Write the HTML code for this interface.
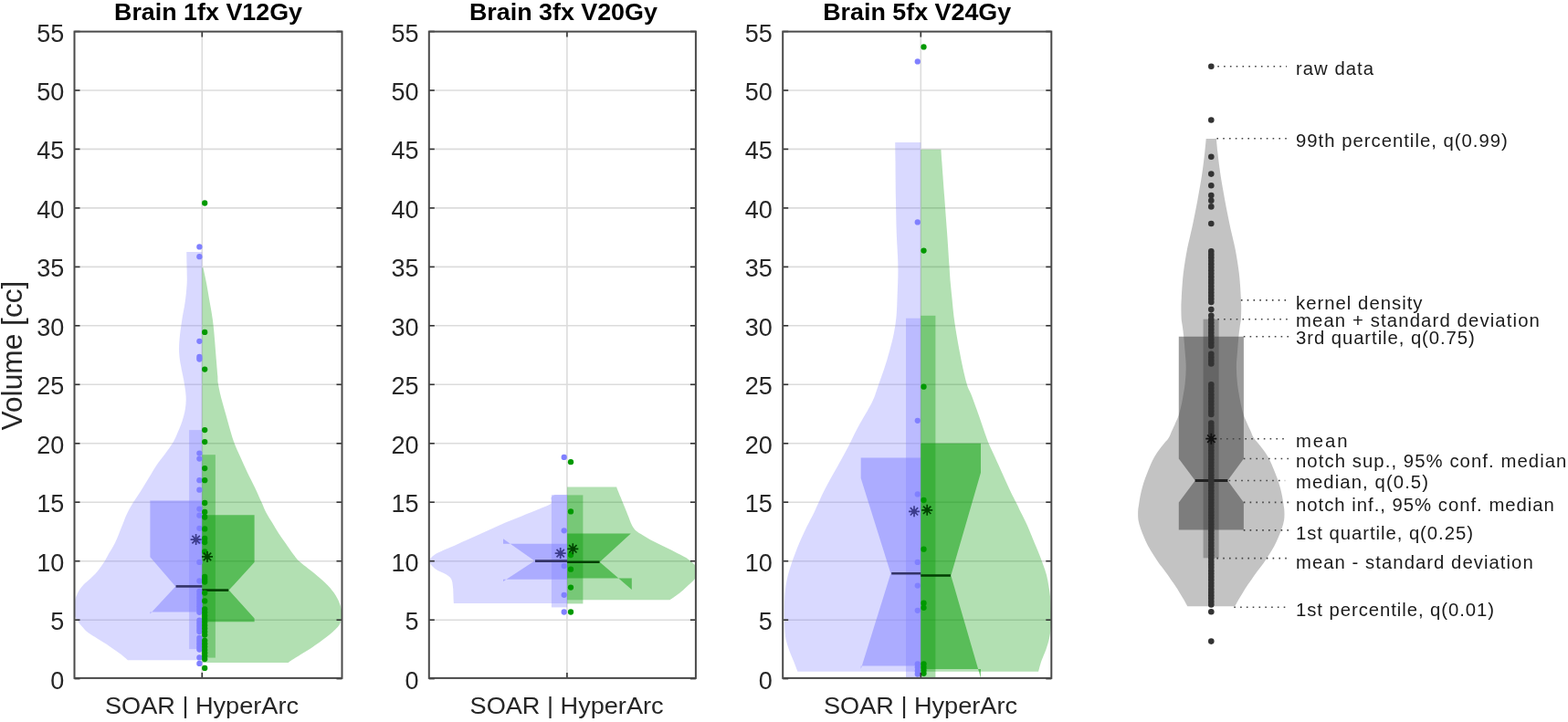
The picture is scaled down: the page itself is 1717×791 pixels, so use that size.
<!DOCTYPE html>
<html><head><meta charset="utf-8"><title>Violin plots</title>
<style>html,body{margin:0;padding:0;background:#fff;overflow:hidden}svg{display:block}</style>
</head><body>
<svg width="1717" height="791" viewBox="0 0 1717 791" font-family="'Liberation Sans', Arial, Helvetica, sans-serif">
<rect width="1717" height="791" fill="#fff"/>
<g stroke="#dcdcdc" stroke-width="1.6"><line x1="81.5" y1="679.2" x2="374.5" y2="679.2"/><line x1="81.5" y1="614.7" x2="374.5" y2="614.7"/><line x1="81.5" y1="550.2" x2="374.5" y2="550.2"/><line x1="81.5" y1="485.8" x2="374.5" y2="485.8"/><line x1="81.5" y1="421.3" x2="374.5" y2="421.3"/><line x1="81.5" y1="356.8" x2="374.5" y2="356.8"/><line x1="81.5" y1="292.4" x2="374.5" y2="292.4"/><line x1="81.5" y1="227.9" x2="374.5" y2="227.9"/><line x1="81.5" y1="163.4" x2="374.5" y2="163.4"/><line x1="81.5" y1="99" x2="374.5" y2="99"/><line x1="221.3" y1="34.6" x2="221.3" y2="742.9"/></g>
<g stroke="#dcdcdc" stroke-width="1.6"><line x1="469.8" y1="679.2" x2="761.9" y2="679.2"/><line x1="469.8" y1="614.7" x2="761.9" y2="614.7"/><line x1="469.8" y1="550.2" x2="761.9" y2="550.2"/><line x1="469.8" y1="485.8" x2="761.9" y2="485.8"/><line x1="469.8" y1="421.3" x2="761.9" y2="421.3"/><line x1="469.8" y1="356.8" x2="761.9" y2="356.8"/><line x1="469.8" y1="292.4" x2="761.9" y2="292.4"/><line x1="469.8" y1="227.9" x2="761.9" y2="227.9"/><line x1="469.8" y1="163.4" x2="761.9" y2="163.4"/><line x1="469.8" y1="99" x2="761.9" y2="99"/><line x1="620.9" y1="34.6" x2="620.9" y2="742.9"/></g>
<g stroke="#dcdcdc" stroke-width="1.6"><line x1="857.2" y1="679.2" x2="1151.3" y2="679.2"/><line x1="857.2" y1="614.7" x2="1151.3" y2="614.7"/><line x1="857.2" y1="550.2" x2="1151.3" y2="550.2"/><line x1="857.2" y1="485.8" x2="1151.3" y2="485.8"/><line x1="857.2" y1="421.3" x2="1151.3" y2="421.3"/><line x1="857.2" y1="356.8" x2="1151.3" y2="356.8"/><line x1="857.2" y1="292.4" x2="1151.3" y2="292.4"/><line x1="857.2" y1="227.9" x2="1151.3" y2="227.9"/><line x1="857.2" y1="163.4" x2="1151.3" y2="163.4"/><line x1="857.2" y1="99" x2="1151.3" y2="99"/><line x1="1008.3" y1="34.6" x2="1008.3" y2="742.9"/></g>
<path d="M221.3 276.1L204.3 276.1C204.3 278.4 204.4 284.3 204.5 290C204.6 295.7 205 303.7 204.7 310.5C204.4 317.3 203.6 324 202.7 330.7C201.8 337.4 200.2 344.1 199.2 350.9C198.2 357.6 197.1 365.1 196.6 371.2C196.1 377.3 195.9 382.2 196.2 387.3C196.5 392.4 197.3 396.6 198.2 401.5C199 406.4 200.4 411.6 201.3 417C202.2 422.4 203.3 428.8 203.6 433.9C203.9 439 203.6 443.2 202.9 447.8C202.2 452.4 200.9 457.1 199.4 461.7C197.9 466.3 195.5 471.8 193.8 475.7C192.1 479.6 191.1 481.9 189 485.4C186.9 488.9 184.3 492.3 181.3 496.5C178.3 500.7 174 505.8 170.9 510.4C167.8 515 165.3 519.8 162.5 524.3C159.7 528.8 157.1 533.2 154.3 537.7C151.5 542.2 148.2 546.6 145.5 551C142.8 555.4 140.2 560.5 138.4 564.2C136.6 567.9 136.1 570.2 134.9 573.1C133.7 576 132.5 579 131.3 581.9C130.1 584.8 129.1 587.8 127.8 590.8C126.5 593.8 125 596.6 123.4 599.6C121.8 602.6 119.6 605.9 118.1 608.5C116.6 611.1 116.4 612 114.5 615C112.6 618 109.3 622.9 106.5 626.2C103.7 629.5 100.1 632.7 97.7 635C95.3 637.3 93.8 638.1 92 640C90.2 641.9 88.4 644.2 87 646.3C85.6 648.4 84.6 650.6 83.8 652.6C83 654.6 82.4 655.6 82 658C81.6 660.4 81.5 664.2 81.5 667C81.5 669.8 81.4 672.8 82 675C82.6 677.2 83.8 678.5 85.1 680.5C86.4 682.5 88.2 684.7 90.1 686.8C92 688.9 93.7 691 96.4 693.1C99.1 695.2 103.1 697.3 106.5 699.4C109.9 701.5 113.5 703.6 116.7 705.7C119.9 707.8 122.5 710 125.5 712.1C128.4 714.2 132 716.5 134.4 718.4C136.8 720.2 139.1 722.4 140 723.2L221.3 723.2Z" fill="#8080ff" fill-opacity="0.3"/>
<path d="M221.3 293.3L222.5 293.3C222.7 294.1 222.9 295.1 223.5 298C224.1 300.9 225.1 305.1 226.1 310.5C227.1 315.9 228.4 324 229.6 330.7C230.8 337.4 232.1 344.1 233 350.9C233.9 357.6 234.4 364.4 235 371.2C235.6 377.9 236 384.7 236.6 391.4C237.2 398.1 237.9 406.8 238.3 411.6C238.7 416.4 238.1 415.6 238.8 420C239.5 424.4 241.2 431.8 242.7 437.7C244.2 443.6 246 449.5 247.7 455.4C249.3 461.3 251.1 467.9 252.6 473C254.1 478.1 255.2 481.9 256.9 486.3C258.6 490.7 260.4 494.5 262.7 499.6C265 504.8 267.9 511.3 270.7 517.2C273.5 523.1 276.9 529.4 279.5 534.9C282.1 540.4 284.3 545.6 286.3 550C288.3 554.4 289.4 557.6 291.4 561.4C293.4 565.2 295.9 569 298.2 572.8C300.5 576.6 302.6 580.4 305.1 584.2C307.6 588 310.4 591.8 313 595.6C315.6 599.4 318.3 603.5 321 606.9C323.7 610.3 324.8 612.3 329 616.1C333.2 619.9 341.2 625.5 346.1 629.7C351 633.9 355 637.3 358.6 641.1C362.2 644.9 365.3 648.7 367.7 652.5C370.1 656.3 371.8 660.5 372.9 663.9C374 667.3 374.4 670.4 374.5 673C374.6 675.6 374.1 677.5 373.4 679.8C372.6 682.1 372.7 683.7 370 686.7C367.3 689.8 362.1 694.3 357.4 698.1C352.6 701.9 347.2 705.7 341.5 709.5C335.8 713.3 327.5 718.1 323.3 720.8C319.1 723.4 317.7 724.5 316.4 725.4C315.1 726.3 315.6 726 315.5 726.1L221.3 726.1Z" fill="#009900" fill-opacity="0.3"/>
<path d="M621.1 542L607.5 542C606.8 542.5 604.2 543.3 603.5 545C602.8 546.7 605.4 549.9 603 552.1C600.6 554.3 594.2 556.1 588.9 558.3C583.6 560.5 577.1 563 571.2 565.4C565.3 567.8 559.4 570 553.5 572.5C547.6 575 541.7 577.8 535.8 580.4C529.9 583 524 585.7 518.1 588.4C512.2 591.1 505.7 594 500.4 596.4C495.1 598.8 490.3 600.7 486.2 602.6C482.1 604.5 478.1 606.3 475.6 607.9C473.1 609.5 471.9 610.7 471.2 612.3C470.5 613.9 470.2 615.7 471.2 617.6C472.2 619.5 474.6 621.9 477.4 623.8C480.2 625.7 485.2 627.3 488 629.1C490.8 630.9 492.9 632 494.2 634.4C495.5 636.8 495.6 640 496 643.3C496.4 646.5 496.4 650.9 496.5 653.9C496.6 656.9 496.8 659.8 496.9 661L621.1 661Z" fill="#8080ff" fill-opacity="0.3"/>
<path d="M621.1 533.6L675.3 533.6C675.4 533.9 675 533.4 675.7 535.2C676.4 537 678.1 541.1 679.5 544.6C680.9 548.1 682.8 552.5 684.2 556C685.6 559.5 686.7 562.3 688 565.5C689.3 568.7 690.4 572.3 691.8 575C693.2 577.7 694.5 579.7 696.5 581.6C698.5 583.5 700.9 584.5 704.1 586.4C707.3 588.3 711.4 590.8 715.5 593C719.6 595.2 724.3 597.4 728.7 599.6C733.1 601.8 737.8 604.1 742 606.3C746.2 608.5 750.7 610.5 754 612.9C757.3 615.3 760.4 617.8 761.8 620.5C763.2 623.2 762.9 626.5 762.6 629C762.3 631.5 761.6 633.2 759.8 635.6C757.9 638 754.1 640.8 751.5 643.2C748.9 645.6 746.8 647.7 743.9 649.9C741 652.1 736 655.5 734.4 656.6L733.5 657.3L621.1 657.3Z" fill="#009900" fill-opacity="0.3"/>
<path d="M1008.3 156.1L980.2 156.1C980.2 159.8 980.4 168 980.5 178C980.6 188 980.7 203.3 980.9 216C981.1 228.7 981.4 243.3 981.7 254C982.1 264.7 982.7 272.3 983 280C983.3 287.7 983.5 292 983.4 300C983.3 308 982.8 320.1 982.5 327.9C982.2 335.7 982.1 340.6 981.5 346.9C980.9 353.2 980 359.5 978.7 365.8C977.5 372.1 975.7 378.5 974 384.8C972.3 391.1 970.4 397.4 968.3 403.7C966.2 410 963.8 416.6 961.6 422.7C959.4 428.8 958.7 432.9 955 440.5C951.3 448.1 943.9 459.9 939.4 468.3C934.9 476.7 932 483.4 928 491C924 498.6 919.7 506.2 915.5 513.8C911.3 521.4 906.9 528.9 903 536.6C899.1 544.3 895 554.1 892.2 560C889.4 565.9 888.2 567.8 886.2 571.7C884.2 575.6 882.2 579.5 880.4 583.4C878.6 587.3 876.8 591.1 875.2 595C873.6 598.9 872.1 602.8 870.6 606.7C869.1 610.6 867.7 614.5 866.4 618.4C865.1 622.3 863.9 626.2 862.9 630.1C861.9 634 861.1 637.9 860.5 641.8C859.9 645.7 859.6 649.6 859.3 653.5C859 657.4 859 661.2 858.9 665.1C858.8 669 858.8 672.9 858.9 676.8C859 680.7 859 684.6 859.3 688.5C859.6 692.4 859.7 696.3 860.5 700.2C861.3 704.1 862.6 708 864 711.9C865.4 715.8 867.1 719.6 868.7 723.6C870.3 727.6 872.6 733.7 873.4 735.7L1008.3 735.7Z" fill="#8080ff" fill-opacity="0.3"/>
<path d="M1008.3 163.7L1030.4 163.7C1030.6 166.1 1030.8 169.3 1031.4 178C1032 186.7 1033.3 203.3 1034.2 216C1035.1 228.7 1036.1 241.7 1037 254C1037.9 266.3 1038.8 280.8 1039.4 290C1040 299.2 1040.2 302.7 1040.7 309C1041.2 315.3 1042 321.6 1042.6 327.9C1043.2 334.2 1043.7 340.6 1044.5 346.9C1045.3 353.2 1046.3 359.5 1047.3 365.8C1048.3 372.1 1049.5 378.5 1050.7 384.8C1051.9 391.1 1053.1 397.4 1054.5 403.7C1055.9 410 1057.9 418.1 1059.3 422.7C1060.7 427.2 1061.3 426.8 1063 431C1064.7 435.2 1067.1 442 1069.2 447.7C1071.3 453.4 1073.4 459.5 1075.4 465.4C1077.5 471.3 1079.2 477.1 1081.5 483C1083.8 488.9 1086.8 494.8 1089.5 500.7C1092.2 506.6 1094.8 512.5 1097.5 518.4C1100.2 524.3 1102.6 530.2 1105.4 536.1C1108.2 542 1112.3 549.8 1114.3 553.8C1116.3 557.8 1115.7 557 1117.2 560C1118.7 563 1121.3 567.8 1123.1 571.7C1124.9 575.6 1126.6 579.5 1128.2 583.4C1129.8 587.3 1131.3 591.1 1132.9 595C1134.5 598.9 1136.2 602.8 1137.8 606.7C1139.3 610.6 1140.8 614.5 1142.2 618.4C1143.6 622.3 1145 626.2 1146 630.1C1147 634 1147.6 637.9 1148.3 641.8C1149 645.7 1149.6 649.6 1150 653.5C1150.4 657.4 1150.5 661.2 1150.7 665.1C1150.9 669 1151.1 672.9 1151.1 676.8C1151.1 680.7 1151.1 684.6 1150.7 688.5C1150.3 692.4 1149.7 696.3 1148.8 700.2C1147.9 704.1 1146.7 708 1145.3 711.9C1143.9 715.8 1142 719.6 1140.6 723.6C1139.2 727.6 1137.7 733.7 1137.1 735.7L1008.3 735.7Z" fill="#009900" fill-opacity="0.3"/>
<polygon points="221.3,548.5 164.4,548.5 164.4,610.2 192.2,642.4 164.4,672.5 164.4,670.5 221.3,670.5" fill="#8080ff" fill-opacity="0.5"/>
<polygon points="221.3,564.3 278.6,564.3 278.6,615.9 250.7,646.6 278.6,677.5 278.6,681.3 221.3,681.3" fill="#009900" fill-opacity="0.5"/>
<polygon points="621.1,595.8 551,595.8 551,590.2 585.4,614.6 551,637.1 551,634.8 621.1,634.8" fill="#8080ff" fill-opacity="0.5"/>
<polygon points="621.1,584.5 690.8,584.5 656.7,615.7 691.8,646.1 691.8,633.4 621.1,633.4" fill="#009900" fill-opacity="0.5"/>
<polygon points="1008.3,501.4 942.7,501.4 942.7,524 975.4,628.3 942.7,733 942.7,729.5 1008.3,729.5" fill="#8080ff" fill-opacity="0.5"/>
<polygon points="1008.3,485.8 1074,485.8 1074,517.7 1041.3,630.5 1074,743 1074,732.9 1008.3,732.9" fill="#009900" fill-opacity="0.5"/>
<rect x="207.1" y="471.1" width="14.2" height="240" fill="#8080ff" fill-opacity="0.33"/>
<rect x="221.3" y="498.2" width="14.6" height="222.4" fill="#009900" fill-opacity="0.33"/>
<rect x="603.9" y="542.2" width="17.2" height="123.2" fill="#8080ff" fill-opacity="0.33"/>
<rect x="621.1" y="542.4" width="17.3" height="119" fill="#009900" fill-opacity="0.33"/>
<rect x="992" y="348.7" width="16.3" height="394.5" fill="#8080ff" fill-opacity="0.33"/>
<rect x="1008.3" y="345.8" width="16.1" height="397.4" fill="#009900" fill-opacity="0.33"/>
<line x1="192.6" y1="642.4" x2="221.3" y2="642.4" stroke="#333366" stroke-width="2.6"/>
<line x1="221.3" y1="646.6" x2="250.2" y2="646.6" stroke="#003d00" stroke-width="2.6"/>
<line x1="586" y1="614.6" x2="621.1" y2="614.6" stroke="#333366" stroke-width="2.6"/>
<line x1="621.1" y1="615.7" x2="656.5" y2="615.7" stroke="#003d00" stroke-width="2.6"/>
<line x1="976.2" y1="628.3" x2="1008.3" y2="628.3" stroke="#333366" stroke-width="2.6"/>
<line x1="1008.3" y1="630.5" x2="1040.9" y2="630.5" stroke="#003d00" stroke-width="2.6"/>
<circle cx="218.4" cy="270.4" r="3.15" fill="#8080ff"/><circle cx="218.4" cy="281.2" r="3.15" fill="#8080ff"/><circle cx="218.4" cy="373.8" r="3.15" fill="#8080ff"/><circle cx="218.4" cy="390.9" r="3.15" fill="#8080ff"/><circle cx="218.4" cy="393.5" r="3.15" fill="#8080ff"/><circle cx="218.4" cy="496.6" r="3.15" fill="#8080ff"/><circle cx="218.4" cy="502.6" r="3.15" fill="#8080ff"/><circle cx="218.4" cy="526.2" r="3.15" fill="#8080ff"/><circle cx="218.4" cy="536.7" r="3.15" fill="#8080ff"/><circle cx="218.4" cy="557.6" r="3.15" fill="#8080ff"/><circle cx="218.4" cy="564.7" r="3.15" fill="#8080ff"/><circle cx="218.4" cy="578.8" r="3.15" fill="#8080ff"/><circle cx="218.4" cy="593" r="3.15" fill="#8080ff"/><circle cx="218.4" cy="615.9" r="3.15" fill="#8080ff"/><circle cx="218.4" cy="636.5" r="3.15" fill="#8080ff"/><circle cx="218.4" cy="647.8" r="3.15" fill="#8080ff"/><circle cx="218.4" cy="651.1" r="3.15" fill="#8080ff"/><circle cx="218.4" cy="654.4" r="3.15" fill="#8080ff"/><circle cx="218.4" cy="657.7" r="3.15" fill="#8080ff"/><circle cx="218.4" cy="660.9" r="3.15" fill="#8080ff"/><circle cx="218.4" cy="664.2" r="3.15" fill="#8080ff"/><circle cx="218.4" cy="667.5" r="3.15" fill="#8080ff"/><circle cx="218.4" cy="670.8" r="3.15" fill="#8080ff"/><circle cx="218.4" cy="679.6" r="3.15" fill="#8080ff"/><circle cx="218.4" cy="682.7" r="3.15" fill="#8080ff"/><circle cx="218.4" cy="685.8" r="3.15" fill="#8080ff"/><circle cx="218.4" cy="688.9" r="3.15" fill="#8080ff"/><circle cx="218.4" cy="692" r="3.15" fill="#8080ff"/><circle cx="218.4" cy="699" r="3.15" fill="#8080ff"/><circle cx="218.4" cy="702.1" r="3.15" fill="#8080ff"/><circle cx="218.4" cy="705.2" r="3.15" fill="#8080ff"/><circle cx="218.4" cy="708.4" r="3.15" fill="#8080ff"/><circle cx="218.4" cy="711.5" r="3.15" fill="#8080ff"/><circle cx="218.4" cy="720.4" r="3.15" fill="#8080ff"/><circle cx="218.4" cy="726.9" r="3.15" fill="#8080ff"/>
<circle cx="224.2" cy="222.5" r="3.15" fill="#009900"/><circle cx="224.2" cy="363.9" r="3.15" fill="#009900"/><circle cx="224.2" cy="404.6" r="3.15" fill="#009900"/><circle cx="224.2" cy="471.1" r="3.15" fill="#009900"/><circle cx="224.2" cy="484.1" r="3.15" fill="#009900"/><circle cx="224.2" cy="513.1" r="3.15" fill="#009900"/><circle cx="224.2" cy="526.2" r="3.15" fill="#009900"/><circle cx="224.2" cy="551" r="3.15" fill="#009900"/><circle cx="224.2" cy="561" r="3.15" fill="#009900"/><circle cx="224.2" cy="566.5" r="3.15" fill="#009900"/><circle cx="224.2" cy="579.4" r="3.15" fill="#009900"/><circle cx="224.2" cy="590" r="3.15" fill="#009900"/><circle cx="224.2" cy="594" r="3.15" fill="#009900"/><circle cx="224.2" cy="604.5" r="3.15" fill="#009900"/><circle cx="224.2" cy="632" r="3.15" fill="#009900"/><circle cx="224.2" cy="634.8" r="3.15" fill="#009900"/><circle cx="224.2" cy="637.5" r="3.15" fill="#009900"/><circle cx="224.2" cy="649.6" r="3.15" fill="#009900"/><circle cx="224.2" cy="658.4" r="3.15" fill="#009900"/><circle cx="224.2" cy="667.3" r="3.15" fill="#009900"/><circle cx="224.2" cy="670.8" r="3.15" fill="#009900"/><circle cx="224.2" cy="674.4" r="3.15" fill="#009900"/><circle cx="224.2" cy="677.9" r="3.15" fill="#009900"/><circle cx="224.2" cy="681.5" r="3.15" fill="#009900"/><circle cx="224.2" cy="685" r="3.15" fill="#009900"/><circle cx="224.2" cy="688.5" r="3.15" fill="#009900"/><circle cx="224.2" cy="692.1" r="3.15" fill="#009900"/><circle cx="224.2" cy="695.6" r="3.15" fill="#009900"/><circle cx="224.2" cy="701.8" r="3.15" fill="#009900"/><circle cx="224.2" cy="705.2" r="3.15" fill="#009900"/><circle cx="224.2" cy="708.6" r="3.15" fill="#009900"/><circle cx="224.2" cy="712" r="3.15" fill="#009900"/><circle cx="224.2" cy="715.3" r="3.15" fill="#009900"/><circle cx="224.2" cy="718.7" r="3.15" fill="#009900"/><circle cx="224.2" cy="722.1" r="3.15" fill="#009900"/><circle cx="224.2" cy="731.9" r="3.15" fill="#009900"/>
<circle cx="617.7" cy="500.9" r="3.15" fill="#8080ff"/><circle cx="617.7" cy="581.3" r="3.15" fill="#8080ff"/><circle cx="617.7" cy="620.1" r="3.15" fill="#8080ff"/><circle cx="617.7" cy="651.8" r="3.15" fill="#8080ff"/><circle cx="617.7" cy="670.5" r="3.15" fill="#8080ff"/>
<circle cx="625" cy="506.2" r="3.15" fill="#009900"/><circle cx="625" cy="560.4" r="3.15" fill="#009900"/><circle cx="625" cy="608" r="3.15" fill="#009900"/><circle cx="625" cy="623.7" r="3.15" fill="#009900"/><circle cx="625" cy="643.6" r="3.15" fill="#009900"/><circle cx="625" cy="670.5" r="3.15" fill="#009900"/>
<circle cx="1004.8" cy="67.4" r="3.15" fill="#8080ff"/><circle cx="1004.8" cy="243.4" r="3.15" fill="#8080ff"/><circle cx="1004.8" cy="460.8" r="3.15" fill="#8080ff"/><circle cx="1004.8" cy="541.4" r="3.15" fill="#8080ff"/><circle cx="1004.8" cy="615.9" r="3.15" fill="#8080ff"/><circle cx="1004.8" cy="641.6" r="3.15" fill="#8080ff"/><circle cx="1004.8" cy="668.8" r="3.15" fill="#8080ff"/><circle cx="1004.8" cy="727.5" r="3.15" fill="#8080ff"/><circle cx="1004.8" cy="731" r="3.15" fill="#8080ff"/><circle cx="1004.8" cy="735" r="3.15" fill="#8080ff"/><circle cx="1004.8" cy="738.5" r="3.15" fill="#8080ff"/>
<circle cx="1011.5" cy="51.4" r="3.15" fill="#009900"/><circle cx="1011.5" cy="274.6" r="3.15" fill="#009900"/><circle cx="1011.5" cy="423.7" r="3.15" fill="#009900"/><circle cx="1011.5" cy="548" r="3.15" fill="#009900"/><circle cx="1011.5" cy="601.7" r="3.15" fill="#009900"/><circle cx="1011.5" cy="660.7" r="3.15" fill="#009900"/><circle cx="1011.5" cy="665.8" r="3.15" fill="#009900"/><circle cx="1011.5" cy="727.3" r="3.15" fill="#009900"/><circle cx="1011.5" cy="731" r="3.15" fill="#009900"/><circle cx="1011.5" cy="734.5" r="3.15" fill="#009900"/><circle cx="1011.5" cy="737.8" r="3.15" fill="#009900"/>
<path d="M208.6 591.1L220.6 591.1M210.4 586.9L218.8 595.3M214.6 585.1L214.6 597.1M218.8 586.9L210.4 595.3" stroke="#3c3c8c" stroke-width="1.7" fill="none"/><circle cx="214.6" cy="591.1" r="2.6" fill="#3c3c8c"/>
<path d="M221 609.9L233 609.9M222.8 605.7L231.2 614.1M227 603.9L227 615.9M231.2 605.7L222.8 614.1" stroke="#004400" stroke-width="1.7" fill="none"/><circle cx="227" cy="609.9" r="2.6" fill="#004400"/>
<path d="M607.7 606.1L619.7 606.1M609.5 601.9L617.9 610.3M613.7 600.1L613.7 612.1M617.9 601.9L609.5 610.3" stroke="#3c3c8c" stroke-width="1.7" fill="none"/><circle cx="613.7" cy="606.1" r="2.6" fill="#3c3c8c"/>
<path d="M621.3 601.3L633.3 601.3M623.1 597.1L631.5 605.5M627.3 595.3L627.3 607.3M631.5 597.1L623.1 605.5" stroke="#004400" stroke-width="1.7" fill="none"/><circle cx="627.3" cy="601.3" r="2.6" fill="#004400"/>
<path d="M995 560.3L1007 560.3M996.8 556.1L1005.2 564.5M1001 554.3L1001 566.3M1005.2 556.1L996.8 564.5" stroke="#3c3c8c" stroke-width="1.7" fill="none"/><circle cx="1001" cy="560.3" r="2.6" fill="#3c3c8c"/>
<path d="M1009.2 558.8L1021.2 558.8M1011 554.6L1019.4 563M1015.2 552.8L1015.2 564.8M1019.4 554.6L1011 563" stroke="#004400" stroke-width="1.7" fill="none"/><circle cx="1015.2" cy="558.8" r="2.6" fill="#004400"/>
<g stroke="#333" stroke-width="1.6"><line x1="81.5" y1="743.6" x2="87.5" y2="743.6"/><line x1="368.5" y1="743.6" x2="374.5" y2="743.6"/><line x1="81.5" y1="679.2" x2="87.5" y2="679.2"/><line x1="368.5" y1="679.2" x2="374.5" y2="679.2"/><line x1="81.5" y1="614.7" x2="87.5" y2="614.7"/><line x1="368.5" y1="614.7" x2="374.5" y2="614.7"/><line x1="81.5" y1="550.2" x2="87.5" y2="550.2"/><line x1="368.5" y1="550.2" x2="374.5" y2="550.2"/><line x1="81.5" y1="485.8" x2="87.5" y2="485.8"/><line x1="368.5" y1="485.8" x2="374.5" y2="485.8"/><line x1="81.5" y1="421.3" x2="87.5" y2="421.3"/><line x1="368.5" y1="421.3" x2="374.5" y2="421.3"/><line x1="81.5" y1="356.8" x2="87.5" y2="356.8"/><line x1="368.5" y1="356.8" x2="374.5" y2="356.8"/><line x1="81.5" y1="292.4" x2="87.5" y2="292.4"/><line x1="368.5" y1="292.4" x2="374.5" y2="292.4"/><line x1="81.5" y1="227.9" x2="87.5" y2="227.9"/><line x1="368.5" y1="227.9" x2="374.5" y2="227.9"/><line x1="81.5" y1="163.4" x2="87.5" y2="163.4"/><line x1="368.5" y1="163.4" x2="374.5" y2="163.4"/><line x1="81.5" y1="99" x2="87.5" y2="99"/><line x1="368.5" y1="99" x2="374.5" y2="99"/><line x1="81.5" y1="34.5" x2="87.5" y2="34.5"/><line x1="368.5" y1="34.5" x2="374.5" y2="34.5"/><line x1="221.3" y1="34.6" x2="221.3" y2="40.6"/><line x1="221.3" y1="742.9" x2="221.3" y2="736.9"/></g>
<rect x="81.5" y="34.6" width="293" height="708.3" fill="none" stroke="#4a4a4a" stroke-width="2"/>
<g font-size="27" fill="#262626" text-anchor="end"><text x="70.2" y="754.6">0</text><text x="70.2" y="690.2">5</text><text x="70.2" y="625.7">10</text><text x="70.2" y="561.2">15</text><text x="70.2" y="496.8">20</text><text x="70.2" y="432.3">25</text><text x="70.2" y="367.8">30</text><text x="70.2" y="303.4">35</text><text x="70.2" y="238.9">40</text><text x="70.2" y="174.4">45</text><text x="70.2" y="110">50</text><text x="70.2" y="45.5">55</text></g>
<text x="221" y="782.2" font-size="26.5" fill="#262626" text-anchor="middle" textLength="212" lengthAdjust="spacingAndGlyphs">SOAR | HyperArc</text>
<text x="228" y="22" font-size="25.3" font-weight="bold" fill="#000" text-anchor="middle" textLength="206" lengthAdjust="spacingAndGlyphs">Brain 1fx V12Gy</text>
<g stroke="#333" stroke-width="1.6"><line x1="469.8" y1="743.6" x2="475.8" y2="743.6"/><line x1="755.9" y1="743.6" x2="761.9" y2="743.6"/><line x1="469.8" y1="679.2" x2="475.8" y2="679.2"/><line x1="755.9" y1="679.2" x2="761.9" y2="679.2"/><line x1="469.8" y1="614.7" x2="475.8" y2="614.7"/><line x1="755.9" y1="614.7" x2="761.9" y2="614.7"/><line x1="469.8" y1="550.2" x2="475.8" y2="550.2"/><line x1="755.9" y1="550.2" x2="761.9" y2="550.2"/><line x1="469.8" y1="485.8" x2="475.8" y2="485.8"/><line x1="755.9" y1="485.8" x2="761.9" y2="485.8"/><line x1="469.8" y1="421.3" x2="475.8" y2="421.3"/><line x1="755.9" y1="421.3" x2="761.9" y2="421.3"/><line x1="469.8" y1="356.8" x2="475.8" y2="356.8"/><line x1="755.9" y1="356.8" x2="761.9" y2="356.8"/><line x1="469.8" y1="292.4" x2="475.8" y2="292.4"/><line x1="755.9" y1="292.4" x2="761.9" y2="292.4"/><line x1="469.8" y1="227.9" x2="475.8" y2="227.9"/><line x1="755.9" y1="227.9" x2="761.9" y2="227.9"/><line x1="469.8" y1="163.4" x2="475.8" y2="163.4"/><line x1="755.9" y1="163.4" x2="761.9" y2="163.4"/><line x1="469.8" y1="99" x2="475.8" y2="99"/><line x1="755.9" y1="99" x2="761.9" y2="99"/><line x1="469.8" y1="34.5" x2="475.8" y2="34.5"/><line x1="755.9" y1="34.5" x2="761.9" y2="34.5"/><line x1="620.9" y1="34.6" x2="620.9" y2="40.6"/><line x1="620.9" y1="742.9" x2="620.9" y2="736.9"/></g>
<rect x="469.8" y="34.6" width="292.1" height="708.3" fill="none" stroke="#4a4a4a" stroke-width="2"/>
<g font-size="27" fill="#262626" text-anchor="end"><text x="458.5" y="754.6">0</text><text x="458.5" y="690.2">5</text><text x="458.5" y="625.7">10</text><text x="458.5" y="561.2">15</text><text x="458.5" y="496.8">20</text><text x="458.5" y="432.3">25</text><text x="458.5" y="367.8">30</text><text x="458.5" y="303.4">35</text><text x="458.5" y="238.9">40</text><text x="458.5" y="174.4">45</text><text x="458.5" y="110">50</text><text x="458.5" y="45.5">55</text></g>
<text x="620.6" y="782.2" font-size="26.5" fill="#262626" text-anchor="middle" textLength="212" lengthAdjust="spacingAndGlyphs">SOAR | HyperArc</text>
<text x="616.9" y="22" font-size="25.3" font-weight="bold" fill="#000" text-anchor="middle" textLength="206" lengthAdjust="spacingAndGlyphs">Brain 3fx V20Gy</text>
<g stroke="#333" stroke-width="1.6"><line x1="857.2" y1="743.6" x2="863.2" y2="743.6"/><line x1="1145.3" y1="743.6" x2="1151.3" y2="743.6"/><line x1="857.2" y1="679.2" x2="863.2" y2="679.2"/><line x1="1145.3" y1="679.2" x2="1151.3" y2="679.2"/><line x1="857.2" y1="614.7" x2="863.2" y2="614.7"/><line x1="1145.3" y1="614.7" x2="1151.3" y2="614.7"/><line x1="857.2" y1="550.2" x2="863.2" y2="550.2"/><line x1="1145.3" y1="550.2" x2="1151.3" y2="550.2"/><line x1="857.2" y1="485.8" x2="863.2" y2="485.8"/><line x1="1145.3" y1="485.8" x2="1151.3" y2="485.8"/><line x1="857.2" y1="421.3" x2="863.2" y2="421.3"/><line x1="1145.3" y1="421.3" x2="1151.3" y2="421.3"/><line x1="857.2" y1="356.8" x2="863.2" y2="356.8"/><line x1="1145.3" y1="356.8" x2="1151.3" y2="356.8"/><line x1="857.2" y1="292.4" x2="863.2" y2="292.4"/><line x1="1145.3" y1="292.4" x2="1151.3" y2="292.4"/><line x1="857.2" y1="227.9" x2="863.2" y2="227.9"/><line x1="1145.3" y1="227.9" x2="1151.3" y2="227.9"/><line x1="857.2" y1="163.4" x2="863.2" y2="163.4"/><line x1="1145.3" y1="163.4" x2="1151.3" y2="163.4"/><line x1="857.2" y1="99" x2="863.2" y2="99"/><line x1="1145.3" y1="99" x2="1151.3" y2="99"/><line x1="857.2" y1="34.5" x2="863.2" y2="34.5"/><line x1="1145.3" y1="34.5" x2="1151.3" y2="34.5"/><line x1="1008.3" y1="34.6" x2="1008.3" y2="40.6"/><line x1="1008.3" y1="742.9" x2="1008.3" y2="736.9"/></g>
<rect x="857.2" y="34.6" width="294.1" height="708.3" fill="none" stroke="#4a4a4a" stroke-width="2"/>
<g font-size="27" fill="#262626" text-anchor="end"><text x="845.9" y="754.6">0</text><text x="845.9" y="690.2">5</text><text x="845.9" y="625.7">10</text><text x="845.9" y="561.2">15</text><text x="845.9" y="496.8">20</text><text x="845.9" y="432.3">25</text><text x="845.9" y="367.8">30</text><text x="845.9" y="303.4">35</text><text x="845.9" y="238.9">40</text><text x="845.9" y="174.4">45</text><text x="845.9" y="110">50</text><text x="845.9" y="45.5">55</text></g>
<text x="1008" y="782.2" font-size="26.5" fill="#262626" text-anchor="middle" textLength="212" lengthAdjust="spacingAndGlyphs">SOAR | HyperArc</text>
<text x="1004.2" y="22" font-size="25.3" font-weight="bold" fill="#000" text-anchor="middle" textLength="206" lengthAdjust="spacingAndGlyphs">Brain 5fx V24Gy</text>
<text transform="translate(23.8,389.5) rotate(-90)" font-size="31.7" fill="#262626" text-anchor="middle">Volume [cc]</text>
<path d="M1320.7 151.9C1320.5 154.3 1319.8 161.8 1319.3 166.5C1318.8 171.2 1318.3 175.6 1317.7 180C1317.1 184.4 1316.6 188.8 1315.9 193.1C1315.2 197.4 1314.5 201.6 1313.7 206C1312.9 210.4 1312.1 215.1 1311.3 219.6C1310.5 224.1 1309.6 228.6 1308.7 233C1307.8 237.4 1307 241.8 1306 246.2C1305 250.6 1304 255.1 1303 259.5C1302 263.9 1300.9 268.3 1300 272.7C1299.1 277.1 1298.4 281.6 1297.7 286C1297 290.4 1296.3 294.9 1295.8 299.3C1295.3 303.7 1294.9 308.1 1294.6 312.5C1294.3 316.9 1294 321.7 1293.8 325.8C1293.6 329.9 1293.4 333 1293.4 337C1293.4 341 1293.5 346.2 1293.7 349.7C1294 353.1 1294.5 354.5 1294.9 357.7C1295.3 360.9 1295.8 364.4 1296.2 368.8C1296.6 373.2 1297.1 378.7 1297.5 384.2C1297.9 389.7 1298.7 396 1298.7 401.9C1298.7 407.8 1298.3 413.7 1297.7 419.6C1297.1 425.5 1295.7 432.9 1294.9 437.3C1294.1 441.7 1293.8 443.1 1293.1 446C1292.4 448.9 1291.7 452 1290.7 455C1289.7 458 1288.1 461.2 1286.9 463.9C1285.7 466.6 1284.9 468.4 1283.7 471C1282.5 473.6 1281.4 477.1 1279.7 479.8C1278 482.5 1275.9 484.3 1273.8 487C1271.7 489.7 1269.1 492.8 1267.1 495.8C1265.1 498.8 1263.4 501.8 1261.8 505C1260.2 508.2 1258.9 511.6 1257.6 514.8C1256.3 518 1255.1 520.9 1254 524C1252.9 527.1 1251.8 530.5 1250.9 533.7C1250 536.9 1249.3 539.8 1248.7 543C1248.1 546.2 1247.5 549.9 1247.1 552.7C1246.7 555.5 1246.3 557.1 1246.2 560C1246.1 562.9 1246 566.6 1246.5 569.8C1247 573 1248 576 1249 579C1250 582 1251.2 584.9 1252.5 588C1253.8 591.1 1255.4 594.7 1257.1 597.9C1258.8 601.1 1260.5 603.8 1262.5 607C1264.5 610.2 1266.8 613.7 1269 616.9C1271.2 620.1 1273.6 622.9 1275.9 626C1278.2 629.1 1280.5 632.6 1282.7 635.8C1284.9 639 1287 641.8 1289.1 645C1291.1 648.2 1293.1 651.6 1295 654.8C1296.9 658 1299.4 662.7 1300.3 664.3L1352.3 664.3C1353.2 662.7 1355.7 658 1357.6 654.8C1359.5 651.6 1361.5 648.2 1363.5 645C1365.5 641.8 1367.7 639 1369.9 635.8C1372.1 632.6 1374.4 629.1 1376.7 626C1379 622.9 1381.4 620.1 1383.6 616.9C1385.8 613.7 1388.1 610.2 1390.1 607C1392.1 603.8 1393.8 601.1 1395.5 597.9C1397.2 594.7 1398.8 591.1 1400.1 588C1401.4 584.9 1402.6 582 1403.6 579C1404.6 576 1405.6 573 1406.1 569.8C1406.6 566.6 1406.5 562.9 1406.4 560C1406.3 557.1 1405.9 555.5 1405.5 552.7C1405.1 549.9 1404.5 546.2 1403.9 543C1403.3 539.8 1402.6 536.9 1401.7 533.7C1400.8 530.5 1399.7 527.1 1398.6 524C1397.5 520.9 1396.3 518 1395 514.8C1393.7 511.6 1392.4 508.2 1390.8 505C1389.2 501.8 1387.5 498.8 1385.5 495.8C1383.5 492.8 1380.9 489.7 1378.8 487C1376.7 484.3 1374.5 482.5 1372.9 479.8C1371.2 477.1 1370.1 473.6 1368.9 471C1367.7 468.4 1366.9 466.6 1365.7 463.9C1364.5 461.2 1362.9 458 1361.9 455C1360.9 452 1360.2 448.9 1359.5 446C1358.8 443.1 1358.5 441.7 1357.7 437.3C1356.9 432.9 1355.5 425.5 1354.9 419.6C1354.3 413.7 1353.9 407.8 1353.9 401.9C1353.9 396 1354.7 389.7 1355.1 384.2C1355.5 378.7 1356 373.2 1356.4 368.8C1356.8 364.4 1357.3 360.9 1357.7 357.7C1358.1 354.5 1358.6 353.1 1358.9 349.7C1359.1 346.2 1359.2 341 1359.2 337C1359.2 333 1359 329.9 1358.8 325.8C1358.6 321.7 1358.3 316.9 1358 312.5C1357.7 308.1 1357.3 303.7 1356.8 299.3C1356.3 294.9 1355.6 290.4 1354.9 286C1354.2 281.6 1353.5 277.1 1352.6 272.7C1351.7 268.3 1350.6 263.9 1349.6 259.5C1348.6 255.1 1347.5 250.6 1346.6 246.2C1345.6 241.8 1344.8 237.4 1343.9 233C1343 228.6 1342.1 224.1 1341.3 219.6C1340.5 215.1 1339.7 210.4 1338.9 206C1338.1 201.6 1337.4 197.4 1336.7 193.1C1336 188.8 1335.5 184.4 1334.9 180C1334.3 175.6 1333.8 171.2 1333.3 166.5C1332.8 161.8 1332.1 154.3 1331.9 151.9Z" fill="#383838" fill-opacity="0.3"/>
<polygon points="1290.8,368.8 1361.9,368.8 1361.9,502.5 1344.3,526.5 1361.9,550.6 1361.9,580.6 1290.8,580.6 1290.8,550.6 1308.7,526.5 1290.8,502.5" fill="#383838" fill-opacity="0.5"/>
<rect x="1317.6" y="349.7" width="17" height="261.6" fill="#383838" fill-opacity="0.33"/>
<line x1="1308.7" y1="526.5" x2="1344.3" y2="526.5" stroke="#222" stroke-width="2.8"/>
<circle cx="1326.3" cy="72.7" r="3.3" fill="#333"/><circle cx="1326.3" cy="131.5" r="3.3" fill="#333"/><circle cx="1326.3" cy="171.8" r="3.3" fill="#333"/><circle cx="1326.3" cy="190.6" r="3.3" fill="#333"/><circle cx="1326.3" cy="203.3" r="3.3" fill="#333"/><circle cx="1326.3" cy="214" r="3.3" fill="#333"/><circle cx="1326.3" cy="219.8" r="3.3" fill="#333"/><circle cx="1326.3" cy="226.4" r="3.3" fill="#333"/><circle cx="1326.3" cy="245" r="3.3" fill="#333"/><circle cx="1326.3" cy="275.4" r="3.3" fill="#333"/><circle cx="1326.3" cy="278.9" r="3.3" fill="#333"/><circle cx="1326.3" cy="282.3" r="3.3" fill="#333"/><circle cx="1326.3" cy="285.8" r="3.3" fill="#333"/><circle cx="1326.3" cy="289.3" r="3.3" fill="#333"/><circle cx="1326.3" cy="292.8" r="3.3" fill="#333"/><circle cx="1326.3" cy="296.2" r="3.3" fill="#333"/><circle cx="1326.3" cy="299.7" r="3.3" fill="#333"/><circle cx="1326.3" cy="303.2" r="3.3" fill="#333"/><circle cx="1326.3" cy="306.7" r="3.3" fill="#333"/><circle cx="1326.3" cy="310.1" r="3.3" fill="#333"/><circle cx="1326.3" cy="313.6" r="3.3" fill="#333"/><circle cx="1326.3" cy="317.1" r="3.3" fill="#333"/><circle cx="1326.3" cy="320.6" r="3.3" fill="#333"/><circle cx="1326.3" cy="324.1" r="3.3" fill="#333"/><circle cx="1326.3" cy="327.5" r="3.3" fill="#333"/><circle cx="1326.3" cy="331" r="3.3" fill="#333"/><circle cx="1326.3" cy="339.1" r="3.3" fill="#333"/><circle cx="1326.3" cy="345.7" r="3.3" fill="#333"/><circle cx="1326.3" cy="350" r="3.3" fill="#333"/><circle cx="1326.3" cy="353.6" r="3.3" fill="#333"/><circle cx="1326.3" cy="357.2" r="3.3" fill="#333"/><circle cx="1326.3" cy="360.9" r="3.3" fill="#333"/><circle cx="1326.3" cy="364.5" r="3.3" fill="#333"/><circle cx="1326.3" cy="368.1" r="3.3" fill="#333"/><circle cx="1326.3" cy="371.8" r="3.3" fill="#333"/><circle cx="1326.3" cy="375.4" r="3.3" fill="#333"/><circle cx="1326.3" cy="379" r="3.3" fill="#333"/><circle cx="1326.3" cy="387.8" r="3.3" fill="#333"/><circle cx="1326.3" cy="391.3" r="3.3" fill="#333"/><circle cx="1326.3" cy="394.9" r="3.3" fill="#333"/><circle cx="1326.3" cy="398.4" r="3.3" fill="#333"/><circle cx="1326.3" cy="421.4" r="3.3" fill="#333"/><circle cx="1326.3" cy="425" r="3.3" fill="#333"/><circle cx="1326.3" cy="428.6" r="3.3" fill="#333"/><circle cx="1326.3" cy="432.3" r="3.3" fill="#333"/><circle cx="1326.3" cy="435.9" r="3.3" fill="#333"/><circle cx="1326.3" cy="439.5" r="3.3" fill="#333"/><circle cx="1326.3" cy="443.1" r="3.3" fill="#333"/><circle cx="1326.3" cy="446.8" r="3.3" fill="#333"/><circle cx="1326.3" cy="450.4" r="3.3" fill="#333"/><circle cx="1326.3" cy="454" r="3.3" fill="#333"/><circle cx="1326.3" cy="463.6" r="3.3" fill="#333"/><circle cx="1326.3" cy="466.7" r="3.3" fill="#333"/><circle cx="1326.3" cy="469.8" r="3.3" fill="#333"/><circle cx="1326.3" cy="472.9" r="3.3" fill="#333"/><circle cx="1326.3" cy="476" r="3.3" fill="#333"/><circle cx="1326.3" cy="483" r="3.3" fill="#333"/><circle cx="1326.3" cy="486.4" r="3.3" fill="#333"/><circle cx="1326.3" cy="489.8" r="3.3" fill="#333"/><circle cx="1326.3" cy="493.2" r="3.3" fill="#333"/><circle cx="1326.3" cy="496.5" r="3.3" fill="#333"/><circle cx="1326.3" cy="499.9" r="3.3" fill="#333"/><circle cx="1326.3" cy="503.3" r="3.3" fill="#333"/><circle cx="1326.3" cy="506.7" r="3.3" fill="#333"/><circle cx="1326.3" cy="510.1" r="3.3" fill="#333"/><circle cx="1326.3" cy="513.5" r="3.3" fill="#333"/><circle cx="1326.3" cy="516.8" r="3.3" fill="#333"/><circle cx="1326.3" cy="520.2" r="3.3" fill="#333"/><circle cx="1326.3" cy="523.6" r="3.3" fill="#333"/><circle cx="1326.3" cy="527" r="3.3" fill="#333"/><circle cx="1326.3" cy="530.4" r="3.3" fill="#333"/><circle cx="1326.3" cy="533.8" r="3.3" fill="#333"/><circle cx="1326.3" cy="537.2" r="3.3" fill="#333"/><circle cx="1326.3" cy="540.5" r="3.3" fill="#333"/><circle cx="1326.3" cy="543.9" r="3.3" fill="#333"/><circle cx="1326.3" cy="547.3" r="3.3" fill="#333"/><circle cx="1326.3" cy="550.7" r="3.3" fill="#333"/><circle cx="1326.3" cy="554.1" r="3.3" fill="#333"/><circle cx="1326.3" cy="557.5" r="3.3" fill="#333"/><circle cx="1326.3" cy="560.9" r="3.3" fill="#333"/><circle cx="1326.3" cy="564.2" r="3.3" fill="#333"/><circle cx="1326.3" cy="567.6" r="3.3" fill="#333"/><circle cx="1326.3" cy="571" r="3.3" fill="#333"/><circle cx="1326.3" cy="574.4" r="3.3" fill="#333"/><circle cx="1326.3" cy="577.8" r="3.3" fill="#333"/><circle cx="1326.3" cy="581.2" r="3.3" fill="#333"/><circle cx="1326.3" cy="584.5" r="3.3" fill="#333"/><circle cx="1326.3" cy="587.9" r="3.3" fill="#333"/><circle cx="1326.3" cy="591.3" r="3.3" fill="#333"/><circle cx="1326.3" cy="594.7" r="3.3" fill="#333"/><circle cx="1326.3" cy="598.1" r="3.3" fill="#333"/><circle cx="1326.3" cy="601.5" r="3.3" fill="#333"/><circle cx="1326.3" cy="604.9" r="3.3" fill="#333"/><circle cx="1326.3" cy="608.2" r="3.3" fill="#333"/><circle cx="1326.3" cy="611.6" r="3.3" fill="#333"/><circle cx="1326.3" cy="615" r="3.3" fill="#333"/><circle cx="1326.3" cy="618.4" r="3.3" fill="#333"/><circle cx="1326.3" cy="621.8" r="3.3" fill="#333"/><circle cx="1326.3" cy="625.2" r="3.3" fill="#333"/><circle cx="1326.3" cy="628.6" r="3.3" fill="#333"/><circle cx="1326.3" cy="631.9" r="3.3" fill="#333"/><circle cx="1326.3" cy="635.3" r="3.3" fill="#333"/><circle cx="1326.3" cy="638.7" r="3.3" fill="#333"/><circle cx="1326.3" cy="642.1" r="3.3" fill="#333"/><circle cx="1326.3" cy="645.5" r="3.3" fill="#333"/><circle cx="1326.3" cy="648.9" r="3.3" fill="#333"/><circle cx="1326.3" cy="652.2" r="3.3" fill="#333"/><circle cx="1326.3" cy="655.6" r="3.3" fill="#333"/><circle cx="1326.3" cy="659" r="3.3" fill="#333"/><circle cx="1326.3" cy="662.4" r="3.3" fill="#333"/><circle cx="1326.3" cy="670.3" r="3.3" fill="#333"/><circle cx="1326.3" cy="702.6" r="3.3" fill="#333"/>
<path d="M1320.3 480.7L1332.3 480.7M1322.1 476.5L1330.5 484.9M1326.3 474.7L1326.3 486.7M1330.5 476.5L1322.1 484.9" stroke="#111" stroke-width="1.7" fill="none"/><circle cx="1326.3" cy="480.7" r="2.6" fill="#111"/>
<g stroke="#444" stroke-width="1.6" stroke-dasharray="1.6 5.2"><line x1="1333.3" y1="72.7" x2="1409.1" y2="72.7"/><line x1="1332.4" y1="151.8" x2="1409.1" y2="151.8"/><line x1="1358.9" y1="328.9" x2="1409.1" y2="328.9"/><line x1="1333.3" y1="349.8" x2="1412" y2="349.8"/><line x1="1361.8" y1="368.7" x2="1412" y2="368.7"/><line x1="1336.2" y1="480.7" x2="1409.1" y2="480.7"/><line x1="1361.8" y1="502.5" x2="1412" y2="502.5"/><line x1="1345.6" y1="526.5" x2="1407.2" y2="526.5"/><line x1="1361.8" y1="550.4" x2="1412" y2="550.4"/><line x1="1361.8" y1="580.9" x2="1412" y2="580.9"/><line x1="1332.4" y1="611.6" x2="1412" y2="611.6"/><line x1="1351.3" y1="665.2" x2="1409.1" y2="665.2"/></g>
<g font-size="20.3" fill="#1a1a1a"><text x="1419" y="82.3" textLength="85" lengthAdjust="spacing">raw data</text><text x="1419" y="160.8" textLength="231.8" lengthAdjust="spacing">99th percentile, q(0.99)</text><text x="1419" y="338.6" textLength="138.5" lengthAdjust="spacing">kernel density</text><text x="1419" y="358.4" textLength="266.9" lengthAdjust="spacing">mean + standard deviation</text><text x="1419" y="377.4" textLength="195.8" lengthAdjust="spacing">3rd quartile, q(0.75)</text><text x="1419" y="489.5" textLength="56.5" lengthAdjust="spacing">mean</text><text x="1419" y="511.7" textLength="296.4" lengthAdjust="spacing">notch sup., 95% conf. median</text><text x="1419" y="534.8" textLength="145" lengthAdjust="spacing">median, q(0.5)</text><text x="1419" y="559.9" textLength="282.9" lengthAdjust="spacing">notch inf., 95% conf. median</text><text x="1419" y="590.7" textLength="193.9" lengthAdjust="spacing">1st quartile, q(0.25)</text><text x="1419" y="622.7" textLength="259.7" lengthAdjust="spacing">mean - standard deviation</text><text x="1419" y="674.6" textLength="217" lengthAdjust="spacing">1st percentile, q(0.01)</text></g>
</svg>
</body></html>
